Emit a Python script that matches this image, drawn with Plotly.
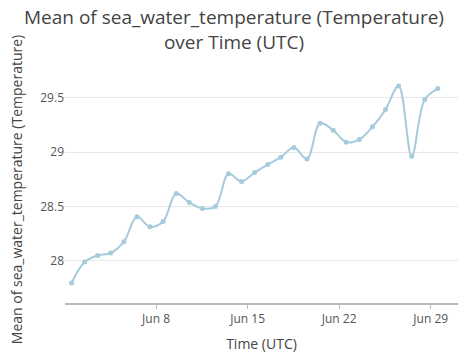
import plotly.graph_objects as go

days = list(range(1, 30))
dates = [f"2023-06-{d:02d}T13:00:00" for d in days]
temps = [27.795, 27.988, 28.049, 28.071, 28.175, 28.404, 28.312, 28.361,
         28.619, 28.536, 28.481, 28.499, 28.800, 28.729, 28.812, 28.885,
         28.953, 29.041, 28.937, 29.266, 29.201, 29.091, 29.115, 29.232,
         29.391, 29.608, 28.962, 29.483, 29.584]
tick_dates = ["2023-06-08", "2023-06-15", "2023-06-22", "2023-06-29"]
tick_labels = ["Jun 8", "Jun 15", "Jun 22", "Jun 29"]
y_ticks = [28, 28.5, 29, 29.5]
y_tick_labels = ["28", "28.5", "29", "29.5"]

fig = go.Figure()
fig.add_trace(go.Scatter(
    x=dates, y=temps, mode="lines+markers",
    line=dict(color="#a6cbdc", width=2, shape="spline", smoothing=1),
    marker=dict(color="#a6cbdc", size=5),
    hoverinfo="x+y", showlegend=False,
))

font_family = "Open Sans, DejaVu Sans, sans-serif"
fig.update_layout(
    width=474, height=353,
    margin=dict(l=65, r=16, t=76, b=50),
    paper_bgcolor="white", plot_bgcolor="white",
    font=dict(family=font_family, color="#555555", size=12),
    title=dict(
        text="Mean of sea_water_temperature (Temperature)<br>over Time (UTC)",
        x=234 / 474, xanchor="center", xref="container",
        y=1 - 24 / 353, yanchor="middle", yref="container",
        font=dict(size=19, color="#444444", family=font_family),
    ),
    xaxis=dict(
        type="date", automargin=False,
        range=["2023-06-01T01:00:00", "2023-07-01T02:00:00"],
        tickvals=tick_dates, ticktext=tick_labels,
        ticks="outside", ticklen=4, tickcolor="#bbbbbb",
        showline=True, linecolor="#bbbbbb", linewidth=2,
        showgrid=False, zeroline=False,
        tickfont=dict(size=12, color="#555555"),
        title=dict(text="Time (UTC)", font=dict(size=14, color="#444444"), standoff=14),
    ),
    yaxis=dict(
        automargin=False,
        range=[27.611, 29.70],
        tickvals=y_ticks, ticktext=y_tick_labels,
        showgrid=True, gridcolor="#e8e8e8", gridwidth=1,
        showline=False, zeroline=False, ticks="",
        tickfont=dict(size=12, color="#555555"),
        title=dict(text="Mean of sea_water_temperature (Temperature)",
                   font=dict(size=14, color="#444444"), standoff=14),
    ),
)

fig.write_html("out.html")
